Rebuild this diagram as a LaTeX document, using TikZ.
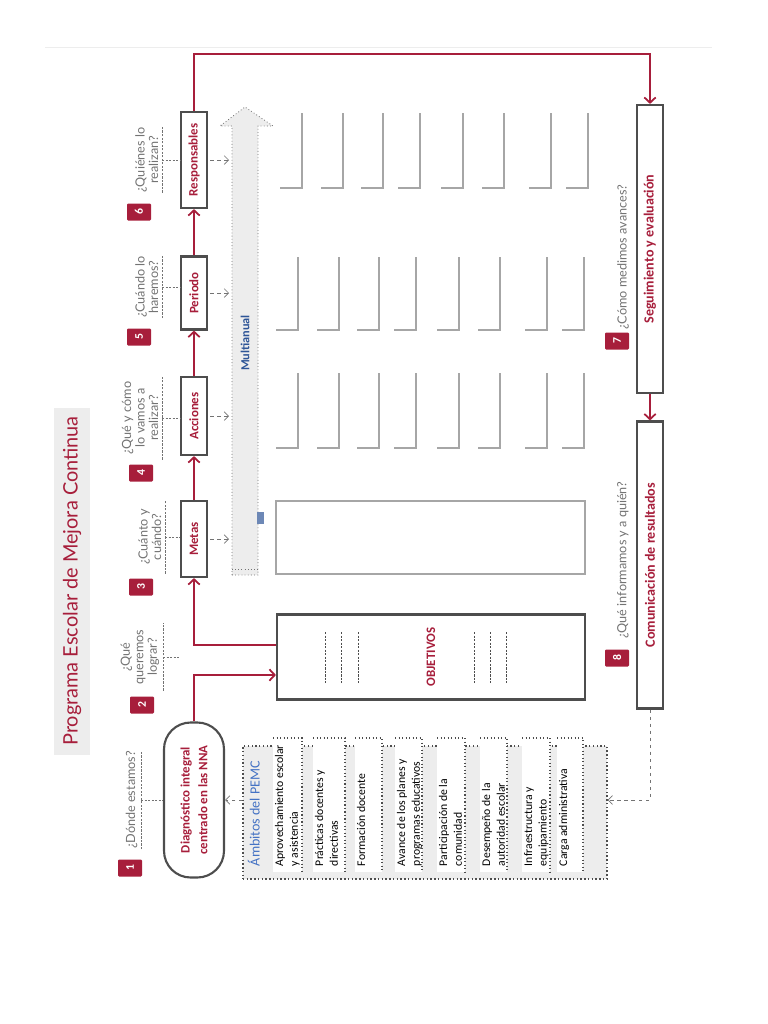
\documentclass[tikz,border=0pt]{standalone}
\usepackage{fontspec}
\setmainfont{Carlito}
\newfontfamily\gillfont{Lato}
\usetikzlibrary{arrows.meta,calc}

\definecolor{pemcred}{HTML}{A71E3B}
\definecolor{boxgray}{HTML}{4D4D4D}
\definecolor{askgray}{HTML}{737373}
\definecolor{softgray}{HTML}{EDEDED}
\definecolor{linegray}{HTML}{A6A6A6}
\definecolor{pemcblue}{HTML}{2E5597}
\definecolor{ambblue}{HTML}{4472C4}

\begin{document}
\begin{tikzpicture}[x=0.03cm, y=-0.03cm,
    box/.style={draw=boxgray, line width=1.8pt, fill=white, rotate=90, text=pemcred, align=center, inner sep=0pt, font=\bfseries\fontsize{11}{12}\selectfont},
    flow/.style={draw=pemcred, line width=1.5pt, -{Straight Barb[length=1.6mm,width=3.4mm]}},
    hint/.style={draw=askgray, dashed, line width=0.6pt, -{Straight Barb[length=1.3mm,width=2.6mm]}},
    qline/.style={draw=askgray, dashed, line width=0.6pt, dash pattern=on 2pt off 1pt},
    ask/.style={rotate=90, text=askgray, align=center, inner xsep=0pt, inner ysep=3pt, font=\gillfont\fontsize{10.8}{11.5}\selectfont},
    badge/.style={rotate=90, fill=pemcred, text=white, minimum width=0.51cm, minimum height=0.72cm, inner sep=0pt, rounded corners=1pt, font=\bfseries\fontsize{10}{10}\selectfont},
    corner/.style={draw=linegray, line width=1.3pt},
    item/.style={rotate=90, anchor=north west, align=left, inner sep=1.5pt, font=\fontsize{10}{12.5}\selectfont}
  ]
  \useasboundingbox (0,0) rectangle (768,1024);
  \draw[softgray, line width=0.8pt] (45,47) -- (712,47);

  % title
  \node[rotate=90, fill=softgray, minimum width=10.41cm, minimum height=1.05cm, text=pemcred, font=\gillfont\fontsize{17}{20}\selectfont] (title) at (72,581) {Programa Escolar de Mejora Continua};

  % main steps
  \node[box, rounded corners=0.8cm, minimum width=4.65cm, minimum height=1.8cm] (diag) at (194,800) {Diagnóstico integral\\[3pt]centrado en las NNA};
  \node[box, minimum width=2.55cm, minimum height=9.24cm] (obj) at (431,657) {OBJETIVOS};
  \node[box, minimum width=2.28cm, minimum height=0.78cm] (metas) at (194,539) {Metas};
  \node[box, minimum width=2.34cm, minimum height=0.78cm] (acc) at (194,416) {Acciones};
  \node[box, minimum width=2.19cm, minimum height=0.78cm] (per) at (194,293) {Periodo};
  \node[box, minimum width=2.88cm, minimum height=0.78cm] (resp) at (194,160) {Responsables};
  \node[box, minimum width=8.64cm, minimum height=0.78cm, font=\bfseries\fontsize{12}{13}\selectfont] (seg) at (650,249) {Seguimiento y evaluación};
  \node[box, minimum width=8.61cm, minimum height=0.78cm, font=\bfseries\fontsize{12}{13}\selectfont] (com) at (650,565) {Comunicación de resultados};

  \foreach \x in {325,341,358,474,490,506}
    \draw[boxgray, dashed, line width=0.8pt, dash pattern=on 2pt off 1pt] (\x,632) -- (\x,683);

  % multianual arrow
  \filldraw[fill=softgray, draw=askgray, dotted, line width=0.7pt] (232,575) -- (232,126) -- (220,126) -- (245,107) -- (273,126) -- (258,126) -- (258,575) -- cycle;
  \draw[askgray, dotted, line width=0.7pt] (232,569) -- (258,569);
  \node[rotate=90, text=pemcblue, font=\bfseries\fontsize{10.5}{12}\selectfont] (multitxt) at (245,343) {Multianual};
  \fill[pemcblue!70] (257,512) rectangle (264,524);
  \coordinate (multi) at (229,300);

  % planning grid
  \foreach \t/\b/\s in {113/188/4, 257/330/0, 373/448/0}
    \foreach \x in {298,339,379,416,459,500,547,584}
      \draw[corner] ({\x+\s-22},\b) -- ({\x+\s},\b) -- ({\x+\s},\t);
  \draw[corner] (276,501) rectangle (585,574);

  % ambitos
  \node[draw=boxgray, dotted, line width=1.2pt, fill=softgray, minimum width=10.92cm, minimum height=3.99cm, inner sep=0pt] (amb) at (425,812.5) {};
  \node[rotate=90, anchor=north west, inner sep=1.5pt, text=ambblue, font=\fontsize{12}{13}\selectfont] (ambt) at (246,868) {Ámbitos del PEMC};
  \foreach \l/\r/\txt in {273/302/{Aprovechamiento escolar\\y asistencia}, 313/345/{Prácticas docentes y\\directivas}, 355/382/{Formación docente}, 395/422/{Avance de los planes y\\programas educativos}, 437/465/{Participación de la\\comunidad}, 480/507/{Desempeño de la\\autoridad escolar}, 522/550/{Infraestructura y\\equipamiento}, 557/583/{Carga administrativa}} {
    \fill[white] (\l,738) rectangle (\r,872);
    \draw[boxgray, dotted, line width=1pt] (\l,738) -- (\r,738) -- (\r,872);
    \node[item] at (\l,868) {\txt};
  }

  % questions
  \node[ask, anchor=south, minimum width=2.4cm] (q1) at (141,800) {¿Dónde estamos?};
  \node[ask, anchor=south, minimum width=2.0cm] (q2) at (163,657) {¿Qué\\queremos\\lograr?};
  \node[ask, anchor=south, minimum width=2.19cm] (q3) at (165,537) {¿Cuánto y\\cuándo?};
  \node[ask, anchor=south, minimum width=2.49cm] (q4) at (162,418) {¿Qué y cómo\\lo vamos a\\realizar?};
  \node[ask, anchor=south, minimum width=1.68cm] (q5) at (162,287) {¿Cuándo lo\\haremos?};
  \node[ask, anchor=south, minimum width=1.68cm] (q6) at (162,160) {¿Quiénes lo\\realizan?};
  \node[ask, anchor=west, inner xsep=2pt] (q7) at (623,332) {¿Cómo medimos avances?};
  \node[ask, anchor=west, inner xsep=2pt] (q8) at (623,641) {¿Qué informamos y a quién?};
  \foreach \q in {q1,q2,q3,q4,q5,q6}
    \draw[qline] (\q.south west) -- (\q.south east);
  \draw[qline] (q1.south) -- (q1.south -| diag.north);
  \draw[qline] (q2.south) -- (q2.south -| metas.north);
  \draw[qline] (q3.south) -- (q3.south -| metas.north);
  \draw[qline] (q4.south) -- (q4.south -| acc.north);
  \draw[qline] (q5.south) -- (q5.south -| per.north);
  \draw[qline] (q6.south) -- (q6.south -| resp.north);

  % badges
  \node[badge] (b1) at (130,868) {1};
  \node[badge] (b2) at (142,705) {2};
  \node[badge] (b3) at (141,587) {3};
  \node[badge] (b4) at (141,473) {4};
  \node[badge] (b5) at (139,337) {5};
  \node[badge] (b6) at (139,212) {6};
  \node[badge] (b7) at (617,341) {7};
  \node[badge] (b8) at (617,658) {8};

  % connectors
  \draw[flow] (diag.east) |- ($(obj.north)+(0,18)$);
  \draw[flow] ($(obj.north)+(0,-12)$) -| (metas.west);
  \draw[flow] (metas.east) -- (acc.west);
  \draw[flow] (acc.east) -- (per.west);
  \draw[flow] (per.east) -- (resp.west);
  \draw[flow] (resp.east) -- ++(0,-57) -| (seg.east);
  \draw[flow] (seg.west) -- (com.east);
  \draw[hint] (com.west) |- (amb.east |- diag.south);
  \draw[hint] (amb.west |- diag.south) -- (diag.south);
  \foreach \n in {metas,acc,per,resp}
    \draw[hint] ([xshift=0.6mm]\n.south) -- (\n.south -| multi);
\end{tikzpicture}
\end{document}
